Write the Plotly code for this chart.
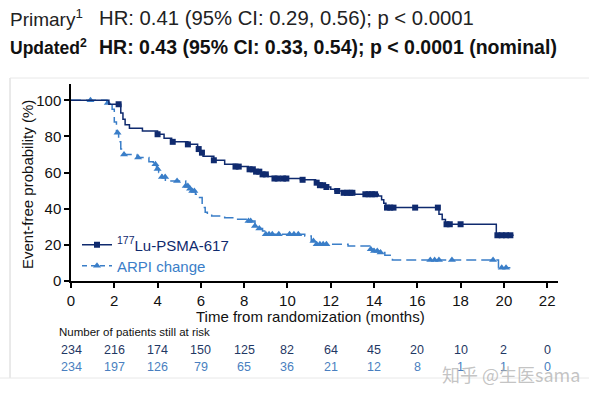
import numpy as np
import plotly.graph_objects as go

# ---- data ----
lu_t = [0, 1.75, 2.3, 2.4, 2.5, 2.7, 3.3, 4.0, 4.3, 4.65, 5.4, 5.85, 5.95, 6.1, 6.6, 7.1, 7.6,
        8.2, 8.5, 8.8, 9.1, 9.4, 10.6, 11.3, 11.5, 11.7, 12.0, 12.2, 12.6, 13.1, 14.2, 14.35,
        14.45, 14.55, 17.0, 17.15, 17.3, 19.65, 20.45]
lu_s = [100, 97.8, 93, 89.5, 86.5, 84.5, 83, 81.2, 79, 77, 75.6, 73, 71, 69, 66.8, 64.6, 63.3,
        61.8, 60.5, 59, 57.8, 56.7, 56, 54.4, 53, 52, 50.7, 49.8, 48.8, 48, 47, 45,
        43, 40.6, 37, 34, 31.4, 25.3, 25.3]
lu_cens = [2.2, 4.0, 4.7, 5.4, 5.9, 6.05, 6.6, 7.6, 7.75, 8.25, 8.4, 8.55, 8.7, 8.85, 9.0,
           9.4, 9.55, 9.8, 9.95, 10.7, 11.35, 11.5, 11.65, 11.8, 12.3, 12.6, 12.75, 12.9,
           13.0, 13.6, 13.75, 13.9, 14.05, 14.6, 14.75, 14.9, 15.9, 16.95, 17.35, 17.5, 18.0,
           19.7, 19.9, 20.1, 20.3]

ar_t = [0, 1.65, 1.9, 2.0, 2.1, 2.2, 2.3, 2.43, 3.05, 3.6, 3.8, 3.95, 4.05, 4.2, 4.36, 5.3,
        5.45, 5.6, 5.75, 5.9, 6.06, 6.2, 6.3, 6.5, 7.1, 7.6, 8.2, 8.5, 8.7, 8.85, 9.0, 10.8,
        11.1, 11.3, 12.8, 13.8, 14.0, 14.3, 14.5, 14.85, 19.75, 20.3]
ar_s = [100, 98.5, 95, 88, 82, 77, 73, 70, 68.3, 66, 64.6, 62, 60, 57.5, 55.3, 52.6,
        51, 49.8, 48, 46.2, 40.6, 38, 36.9, 36, 35, 34.1, 33.2, 30.4, 29, 27.7, 25.8, 24.9,
        22.1, 20.3, 19.4, 17.5, 16.6, 15.7, 14.2, 11.6, 7.4, 7.4]
ar_cens = [0.9, 1.7, 2.15, 2.45, 3.1, 3.9, 4.0, 4.2, 4.35, 4.9, 5.3, 5.4, 5.5, 5.6, 5.7,
           8.2, 8.3, 8.5, 8.7, 9.0, 9.15, 9.3, 9.6, 10.1, 10.3, 10.5, 11.2, 11.35, 11.5,
           11.65, 11.8, 13.85, 14.0, 14.15, 14.3, 16.6, 16.8, 17.0, 17.6, 19.5, 19.9, 20.1]

risk_times = [0, 2, 4, 6, 8, 10, 12, 14, 16, 18, 20, 22]
risk_lu = [234, 216, 174, 150, 125, 82, 64, 45, 20, 10, 2, 0]
risk_ar = [234, 197, 126, 79, 65, 36, 21, 12, 8, 1, 1, 0]

x_ticks = [0, 2, 4, 6, 8, 10, 12, 14, 16, 18, 20, 22]
y_ticks = [0, 20, 40, 60, 80, 100]

LU_COL = "#0f2a6e"
AR_COL = "#3a7ec8"
FONT = "Liberation Sans, Arial, sans-serif"


def step_at(times, vals, q):
    t = np.asarray(times)
    v = np.asarray(vals)
    idx = np.searchsorted(t, np.asarray(q), side="right") - 1
    return v[np.clip(idx, 0, len(v) - 1)]


W, H = 589, 397
L, R, T, B = 71, 31, 84, 116
PW, PH = W - L - R, H - T - B


def px(x):
    return (x - L) / PW


def py(y):
    return (H - B - y) / PH


fig = go.Figure()

fig.add_trace(go.Scatter(x=ar_t, y=ar_s, mode="lines", line_shape="hv",
                         line=dict(color=AR_COL, width=1.5, dash="10px,5px"),
                         showlegend=False))
fig.add_trace(go.Scatter(x=ar_cens, y=step_at(ar_t, ar_s, ar_cens), mode="markers",
                         marker=dict(symbol="triangle-up", size=7, color=AR_COL),
                         showlegend=False))
fig.add_trace(go.Scatter(x=lu_t, y=lu_s, mode="lines", line_shape="hv",
                         line=dict(color=LU_COL, width=1.5), showlegend=False))
fig.add_trace(go.Scatter(x=lu_cens, y=step_at(lu_t, lu_s, lu_cens), mode="markers",
                         marker=dict(symbol="square", size=6, color=LU_COL),
                         showlegend=False))

# legend entries (two separate legends for exact placement)
fig.add_trace(go.Scatter(x=[None], y=[None], mode="lines+markers",
                         line=dict(color=LU_COL, width=1.5),
                         marker=dict(symbol="square", size=6, color=LU_COL),
                         name=f"<span style='color:{LU_COL}'><sup>177</sup>Lu-PSMA-617</span>",
                         legend="legend"))
fig.add_trace(go.Scatter(x=[None], y=[None], mode="lines+markers",
                         line=dict(color=AR_COL, width=1.5, dash="5px,4px"),
                         marker=dict(symbol="triangle-up", size=7, color=AR_COL),
                         name=f"<span style='color:{AR_COL}'>ARPI change</span>",
                         legend="legend2"))

ann = []
# header text
ann.append(dict(x=px(8), y=py(18), text="Primary<sup>1</sup>", showarrow=False,
                xanchor="left", yanchor="middle", font=dict(size=19, color="#222")))
ann.append(dict(x=px(97), y=py(18), text="HR: 0.41 (95% CI: 0.29, 0.56); p &lt; 0.0001",
                showarrow=False, xanchor="left", yanchor="middle",
                font=dict(size=20.3, color="#222")))
ann.append(dict(x=px(8), y=py(47), text="<b>Updated<sup>2</sup></b>", showarrow=False,
                xanchor="left", yanchor="middle", font=dict(size=17.5, color="#111")))
ann.append(dict(x=px(97), y=py(47),
                text="<b>HR: 0.43 (95% CI: 0.33, 0.54); p &lt; 0.0001 (nominal)</b>",
                showarrow=False, xanchor="left", yanchor="middle",
                font=dict(size=19.5, color="#111")))
# axis titles
ann.append(dict(x=px(27), y=py(185), text="Event-free probability (%)", textangle=-90,
                showarrow=False, xanchor="center", yanchor="middle",
                font=dict(size=15, color="#111")))
ann.append(dict(x=px(310), y=py(316), text="Time from randomization (months)",
                showarrow=False, xanchor="center", yanchor="middle",
                font=dict(size=15, color="#111")))
# risk table
ann.append(dict(x=px(57), y=py(332), text="Number of patients still at risk",
                showarrow=False, xanchor="left", yanchor="middle",
                font=dict(size=11.5, color="#111")))
for t, a, b in zip(risk_times, risk_lu, risk_ar):
    ann.append(dict(x=t, xref="x", y=py(350), yref="paper", text=str(a), showarrow=False,
                    xanchor="center", yanchor="middle", font=dict(size=12.5, color="#1f3864")))
    ann.append(dict(x=t, xref="x", y=py(367), yref="paper", text=str(b), showarrow=False,
                    xanchor="center", yanchor="middle", font=dict(size=12.5, color="#4a7fc0")))
# watermark
ann.append(dict(x=px(440), y=py(374), text="知乎 @生医sama", showarrow=False,
                xanchor="left", yanchor="middle",
                font=dict(size=18, color="rgba(170,170,170,0.7)",
                          family="Noto Sans CJK SC")))
for a in ann:
    a.setdefault("xref", "paper")
    a.setdefault("yref", "paper")

shapes = [
    dict(type="line", xref="paper", yref="paper", x0=px(10), x1=px(10), y0=py(78), y1=py(378),
         line=dict(color="#d4d4d4", width=1)),
    dict(type="line", xref="paper", yref="paper", x0=px(10), x1=px(589), y0=py(78), y1=py(78),
         line=dict(color="#e8e8e8", width=1)),
    dict(type="line", xref="paper", yref="paper", x0=px(0), x1=px(589), y0=py(378), y1=py(378),
         line=dict(color="#e8e8e8", width=1)),
]

fig.update_layout(
    width=W, height=H,
    margin=dict(l=L, r=R, t=T, b=B),
    paper_bgcolor="white", plot_bgcolor="white",
    font=dict(family=FONT, size=15, color="#111"),
    annotations=ann, shapes=shapes,
    legend=dict(x=px(77), y=py(245), xanchor="left", yanchor="middle",
                bgcolor="rgba(0,0,0,0)", font=dict(size=15), itemwidth=30),
    legend2=dict(x=px(77), y=py(266), xanchor="left", yanchor="middle",
                 bgcolor="rgba(0,0,0,0)", font=dict(size=15), itemwidth=30),
    xaxis=dict(range=[0, 22.5], tickvals=x_ticks, showgrid=False, zeroline=False,
               showline=True, linecolor="black", linewidth=1.5, ticks="outside",
               ticklen=5, tickwidth=1.5, tickcolor="black", tickfont=dict(size=15)),
    yaxis=dict(range=[0, 109], tickvals=y_ticks, showgrid=False, zeroline=False,
               showline=True, linecolor="black", linewidth=1.5, ticks="outside",
               ticklen=5, tickwidth=1.5, tickcolor="black", tickfont=dict(size=15)),
)

fig.write_html("out.html", config={"displayModeBar": False},
               post_script="document.body.style.margin='0';document.body.style.overflow='hidden';")
